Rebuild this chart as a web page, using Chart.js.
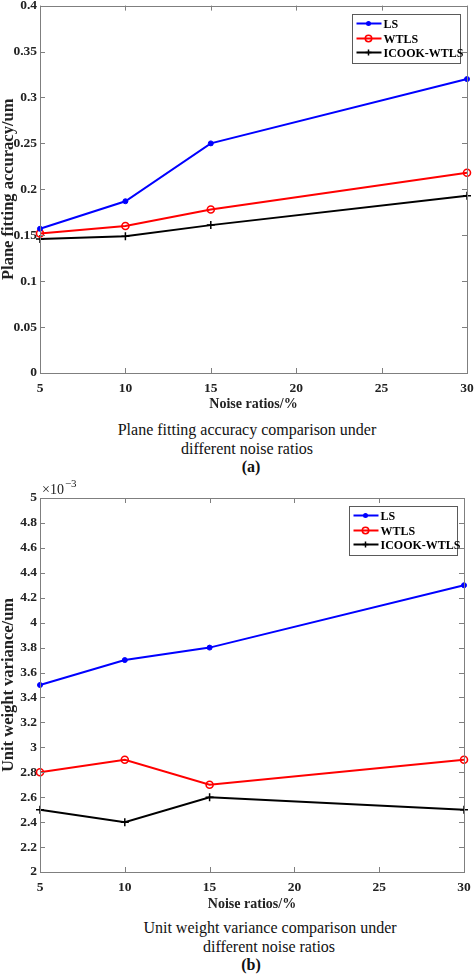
<!DOCTYPE html>
<html>
<head>
<meta charset="utf-8">
<script src="https://cdn.jsdelivr.net/npm/chart.js@4.4.0/dist/chart.umd.min.js"></script>
<style>
    body { margin: 0; background: #fff; width: 474px; height: 978px; position: relative; overflow: hidden; }
    .box { position: absolute; left: 0; width: 474px; }
    .cap { position: absolute; font-family: "Liberation Serif", serif; font-size: 16px; color: #111; white-space: nowrap; transform: translate(-50%, -50%); }
    .lbl { font-weight: bold; }
</style>
</head>
<body>
<div class="box" style="top:0;height:415px"><canvas id="chartA"></canvas></div>
<div class="cap" style="left:247px;top:430px">Plane fitting accuracy comparison under</div>
<div class="cap" style="left:247px;top:449px">different noise ratios</div>
<div class="cap lbl" style="left:251px;top:467px">(a)</div>

<div class="box" style="top:480px;height:435px"><canvas id="chartB"></canvas></div>
<div class="cap" style="left:270px;top:928px">Unit weight variance comparison under</div>
<div class="cap" style="left:269px;top:947px">different noise ratios</div>
<div class="cap lbl" style="left:251px;top:965px">(b)</div>

<script>
// noise ratios (%)
var noiseRatios = [5, 10, 15, 30];
var xTicks = [5, 10, 15, 20, 25, 30];

// (a) plane fitting accuracy / um
var lsAccuracy = [0.157, 0.187, 0.25, 0.32];
var wtlsAccuracy = [0.152, 0.160, 0.178, 0.218];
var icookAccuracy = [0.146, 0.149, 0.161, 0.193];
var yTicksA = [0, 0.05, 0.1, 0.15, 0.2, 0.25, 0.3, 0.35, 0.4];
var yTickLabelsA = ['0', '0.05', '0.1', '0.15', '0.2', '0.25', '0.3', '0.35', '0.4'];

// (b) unit weight variance / um  (x 10^-3)
var lsVariance = [3.5, 3.7, 3.8, 4.3];
var wtlsVariance = [2.8, 2.9, 2.7, 2.9];
var icookVariance = [2.5, 2.4, 2.6, 2.5];
var yTicksB = [2, 2.2, 2.4, 2.6, 2.8, 3, 3.2, 3.4, 3.6, 3.8, 4, 4.2, 4.4, 4.6, 4.8, 5];
var yTickLabelsB = ['2', '2.2', '2.4', '2.6', '2.8', '3', '3.2', '3.4', '3.6', '3.8', '4', '4.2', '4.4', '4.6', '4.8', '5'];

var seriesNames = ['LS', 'WTLS', 'ICOOK-WTLS'];
var seriesColors = ['#0000ff', '#ff0000', '#000000'];

var serif = '"Liberation Serif", "Times New Roman", serif';

function toPoints(values) {
    var pts = [];
    for (var i = 0; i < values.length; i++) {
        pts.push({ x: noiseRatios[i], y: values[i] });
    }
    return pts;
}

function makeDatasets(ls, wtls, icook) {
    return [{
        label: seriesNames[0],
        data: toPoints(ls),
        borderColor: seriesColors[0],
        backgroundColor: seriesColors[0],
        borderWidth: 2,
        pointStyle: 'circle',
        pointRadius: 2.5,
        pointBorderWidth: 1,
        clip: 10
    }, {
        label: seriesNames[1],
        data: toPoints(wtls),
        borderColor: seriesColors[1],
        backgroundColor: 'rgba(0,0,0,0)',
        pointBackgroundColor: 'rgba(255,255,255,0)',
        borderWidth: 2,
        pointStyle: 'circle',
        pointRadius: 3.5,
        pointBorderWidth: 1.6,
        clip: 10
    }, {
        label: seriesNames[2],
        data: toPoints(icook),
        borderColor: seriesColors[2],
        backgroundColor: seriesColors[2],
        borderWidth: 2,
        pointStyle: 'cross',
        pointRadius: 4,
        pointBorderWidth: 1.5,
        clip: 10
    }];
}

// MATLAB style box with ticks pointing inward on all four sides
var boxPlugin = {
    id: 'matlabBox',
    afterDraw: function (chart) {
        var ctx = chart.ctx;
        var a = chart.chartArea;
        var xs = chart.scales.x;
        var ys = chart.scales.y;
        var len = 5;
        ctx.save();
        ctx.strokeStyle = '#7f7f7f';
        ctx.lineWidth = 1;
        ctx.beginPath();
        xs.ticks.forEach(function (t, i) {
            var px = Math.round(xs.getPixelForTick(i)) + 0.5;
            ctx.moveTo(px, a.bottom); ctx.lineTo(px, a.bottom - len);
            ctx.moveTo(px, a.top); ctx.lineTo(px, a.top + len);
        });
        ys.ticks.forEach(function (t, i) {
            var py = Math.round(ys.getPixelForTick(i)) + 0.5;
            ctx.moveTo(a.left, py); ctx.lineTo(a.left + len, py);
            ctx.moveTo(a.right, py); ctx.lineTo(a.right - len, py);
        });
        ctx.stroke();
        ctx.strokeRect(Math.round(a.left) + 0.5, Math.round(a.top) + 0.5,
            Math.round(a.right - a.left), Math.round(a.bottom - a.top));
        ctx.restore();
    }
};

// legend in the upper right corner, inside the axes
var legendPlugin = {
    id: 'matlabLegend',
    afterDraw: function (chart) {
        var ctx = chart.ctx;
        var a = chart.chartArea;
        var w = 108, h = 49;
        var left = Math.round(a.right - 7 - w) + 0.5;
        var top = Math.round(a.top + 8) + 0.5;
        ctx.save();
        ctx.fillStyle = '#fff';
        ctx.fillRect(left, top, w, h);
        ctx.strokeStyle = '#5a5a5a';
        ctx.lineWidth = 1;
        ctx.strokeRect(left, top, w, h);
        ctx.font = 'bold 12px ' + serif;
        ctx.textBaseline = 'middle';
        var offsets = [9, 24, 38];
        chart.data.datasets.forEach(function (ds, i) {
            var y = top + offsets[i];
            ctx.strokeStyle = ds.borderColor;
            ctx.lineWidth = 2;
            ctx.beginPath();
            ctx.moveTo(left + 4, y);
            ctx.lineTo(left + 29, y);
            ctx.stroke();
            var mx = left + 16;
            ctx.lineWidth = ds.pointBorderWidth;
            if (ds.pointStyle === 'cross') {
                ctx.beginPath();
                ctx.moveTo(mx - 3, y); ctx.lineTo(mx + 3, y);
                ctx.moveTo(mx, y - 3); ctx.lineTo(mx, y + 3);
                ctx.stroke();
            } else if (i === 0) {
                ctx.fillStyle = ds.borderColor;
                ctx.beginPath();
                ctx.arc(mx, y, 2.5, 0, Math.PI * 2);
                ctx.fill();
            } else {
                ctx.beginPath();
                ctx.arc(mx, y, 3.2, 0, Math.PI * 2);
                ctx.stroke();
            }
            ctx.fillStyle = '#000';
            ctx.fillText(ds.label, left + 31, y + 1);
        });
        ctx.restore();
    }
};

// "x10^-3" exponent above the y axis
var exponentPlugin = {
    id: 'exponentLabel',
    afterDraw: function (chart, args, opts) {
        if (!opts.text) return;
        var ctx = chart.ctx;
        var a = chart.chartArea;
        ctx.save();
        ctx.fillStyle = '#222';
        ctx.textBaseline = 'alphabetic';
        ctx.font = '14px ' + serif;
        ctx.fillText('\u00d710', a.left + 2, a.top - 4);
        var w = ctx.measureText('\u00d710').width;
        ctx.font = '11px ' + serif;
        ctx.fillText(opts.text, a.left + 3 + w, a.top - 11);
        ctx.restore();
    }
};

function makeChart(id, datasets, yMin, yMax, yTicks, yLabels, yTitle, axisHeight, pad, exponent) {
    var ctx = document.getElementById(id).getContext('2d');
    return new Chart(ctx, {
        type: 'line',
        data: { datasets: datasets },
        plugins: [boxPlugin, legendPlugin, exponentPlugin],
        options: {
            responsive: true,
            maintainAspectRatio: false,
            animation: false,
            layout: { padding: pad },
            plugins: {
                legend: { display: false },
                tooltip: { enabled: false },
                exponentLabel: { text: exponent }
            },
            scales: {
                x: {
                    type: 'linear',
                    min: 5,
                    max: 30,
                    afterBuildTicks: function (scale) {
                        scale.ticks = xTicks.map(function (v) { return { value: v }; });
                    },
                    afterFit: function (scale) {
                        scale.height = axisHeight;
                        scale.paddingLeft = 0;
                        scale.paddingRight = 0;
                    },
                    ticks: {
                        color: '#222',
                        padding: 7,
                        maxRotation: 0,
                        autoSkip: false,
                        font: { family: serif, size: 13.5, weight: 'bold' }
                    },
                    grid: { display: false, drawTicks: false },
                    border: { display: false },
                    title: {
                        display: true,
                        text: 'Noise ratios/%',
                        color: '#222',
                        padding: { top: 2, bottom: 2 },
                        font: { family: serif, size: 14, weight: 'bold' }
                    }
                },
                y: {
                    min: yMin,
                    max: yMax,
                    afterBuildTicks: function (scale) {
                        scale.ticks = yTicks.map(function (v) { return { value: v }; });
                    },
                    afterFit: function (scale) {
                        scale.width = 40;
                        scale.paddingTop = 0;
                        scale.paddingBottom = 0;
                    },
                    ticks: {
                        color: '#222',
                        padding: 3,
                        autoSkip: false,
                        font: { family: serif, size: 13.5, weight: 'bold' },
                        callback: function (value, index) { return yLabels[index]; }
                    },
                    grid: { display: false, drawTicks: false },
                    border: { display: false },
                    title: {
                        display: true,
                        text: yTitle,
                        color: '#222',
                        padding: { top: 0, bottom: 0 },
                        font: { family: serif, size: 16.5, weight: 'bold', lineHeight: 1 }
                    }
                }
            }
        }
    });
}

makeChart('chartA', makeDatasets(lsAccuracy, wtlsAccuracy, icookAccuracy),
    0, 0.4, yTicksA, yTickLabelsA, 'Plane fitting accuracy/um', 42,
    { top: 5, right: 7, left: 0, bottom: 0 }, '');

makeChart('chartB', makeDatasets(lsVariance, wtlsVariance, icookVariance),
    2, 5, yTicksB, yTickLabelsB, 'Unit weight variance/um', 43,
    { top: 18, right: 10, left: 0, bottom: 0 }, '\u22123');
</script>
</body>
</html>
